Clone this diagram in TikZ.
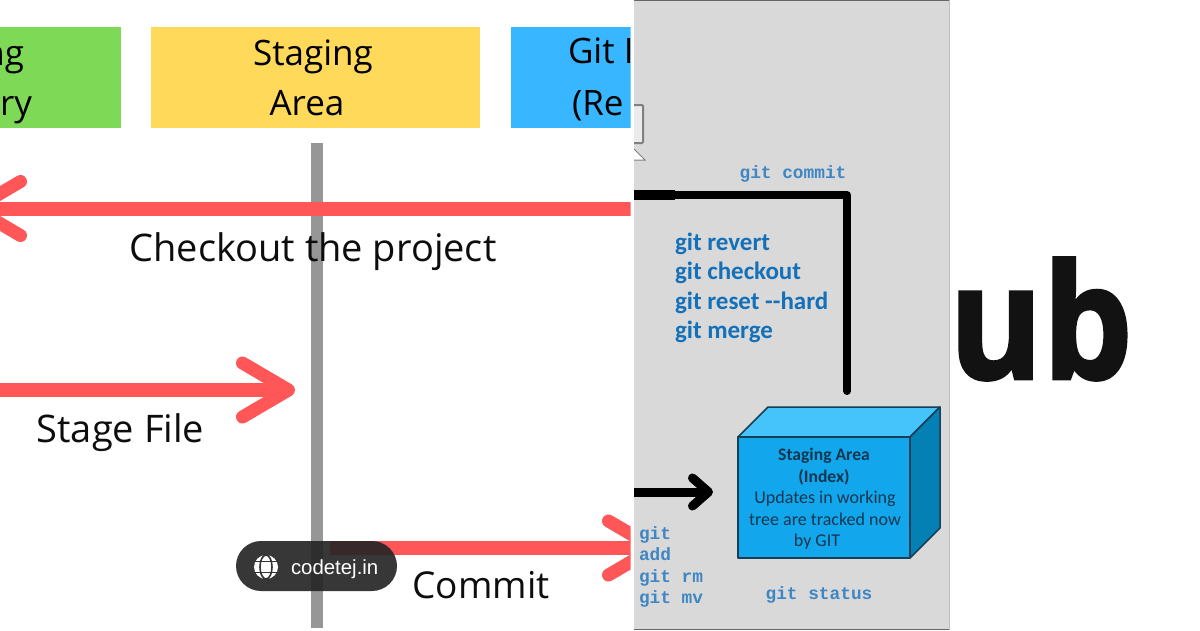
\documentclass[tikz,border=0pt]{standalone}
\usepackage{fontspec}
\usetikzlibrary{arrows.meta}
\setmainfont{Open Sans}
\newfontfamily\boxfont{Carlito}
\newfontfamily\cmdfont{Liberation Mono}
\newfontfamily\pillfont{Liberation Sans}
\newfontfamily\logofont[FakeBold=1.6,FakeStretch=.89]{Open Sans}
\definecolor{greenbox}{HTML}{7ED957}
\definecolor{yellowbox}{HTML}{FFD95A}
\definecolor{bluebox}{HTML}{38B6FF}
\definecolor{redline}{HTML}{FF5757}
\definecolor{greybar}{HTML}{969696}
\definecolor{panelgrey}{HTML}{D9D9D9}
\definecolor{cmdblue}{HTML}{3F86C4}
\definecolor{listblue}{HTML}{1470B8}
\definecolor{boxtext}{HTML}{10374F}
\definecolor{boxedge}{HTML}{173F55}
\definecolor{boxtop}{HTML}{45C4FB}
\definecolor{boxside}{HTML}{0480B5}
\definecolor{boxfront}{HTML}{12A6EC}
\begin{document}
\begin{tikzpicture}[x=1pt,y=-1pt,
    every node/.style={inner sep=0pt,outer sep=0pt},
    title/.style={font=\fontsize{35}{35}\selectfont,text=black},
    caption/.style={font=\fontsize{38}{38}\selectfont,text=black!95},
    redarrow/.style={draw=redline,line width=14pt,
      -{Straight Barb[round,length=46pt,width=54pt,line width=13pt]}},
    cmd/.style={font=\cmdfont\bfseries\fontsize{17.8}{17.8}\selectfont,text=cmdblue,anchor=base west},
    listcmd/.style={font=\boxfont\bfseries\fontsize{25}{25}\selectfont,text=listblue,anchor=base west},
    boxline/.style={font=\boxfont\fontsize{18}{18}\selectfont,text=boxtext,anchor=base},
    boxhead/.style={font=\boxfont\bfseries\fontsize{17.6}{17.6}\selectfont,text=boxtext,anchor=base},
    boxface/.style={draw=boxedge,line width=1.5pt,line join=round},
    blackline/.style={draw=black,line width=8pt,line join=round}]
  \useasboundingbox (0,0) rectangle (1200,630);
  \fill[white] (0,0) rectangle (1200,630);
  \begin{scope}
    \clip (0,0) rectangle (630.5,630);
    \fill[greenbox] (-20,27) rectangle (121,128);
    \fill[yellowbox] (151,27) rectangle (480,128);
    \fill[bluebox] (511,27) rectangle (631,128);
    \node[title,anchor=base east] (workingtop) at (24,65) {ng};
    \node[title,anchor=base east] (workingbottom) at (32,115) {ry};
    \node[title,anchor=base] (stagingtop) at (313,65) {Staging};
    \node[title,anchor=base] (stagingbottom) at (307,115) {Area};
    \node[title,anchor=base west] (remotetop) at (568,63) {Git I};
    \node[title,anchor=base west] (remotebottom) at (572,115) {(Re};
    \fill[greybar] (311,143) rectangle (323,628);
    \coordinate (checkoutstart) at (640,208.5);
    \coordinate (checkoutend) at (-32,208.5);
    \coordinate (stagestart) at (-20,390);
    \coordinate (stageend) at (295,390);
    \coordinate (commitstart) at (330,548);
    \coordinate (commitend) at (661,548);
    \draw[redarrow] (checkoutstart) -- (checkoutend);
    \draw[redarrow] (stagestart) -- (stageend);
    \draw[redarrow] (commitstart) -- (commitend);
    \node[caption,anchor=base] (checkout) at (313,261) {Checkout the project};
    \node[caption,anchor=base] (stagefile) at (120.5,442) {Stage File};
    \node[caption,anchor=base,font=\fontsize{37}{37}\selectfont] (commit) at (481,598) {Commit};
    \fill[black!85,opacity=.92,rounded corners=25pt] (236,541) rectangle (397,591);
    \node[font=\pillfont\fontsize{20.4}{20.4}\selectfont,text=white,anchor=base west] (site) at (291,574) {codetej.in};
    \fill[white] (266,567) circle (12);
    \draw[black!80,line width=1.6pt] (266,567) ellipse (6 and 12);
    \draw[black!80,line width=1.6pt] (254,561.5) -- (278,561.5) (254,572.5) -- (278,572.5);
  \end{scope}
  \fill[panelgrey] (634,0) rectangle (949,630);
  \draw[black!60,line width=1pt] (634,.5) -- (949,.5) (634,629.5) -- (949,629.5);
  \draw[black!25,line width=1pt] (949,0) -- (949,630);
  \draw[black!50,fill=black!8,line width=2pt,rounded corners=1pt] (634,105) -- (643,105) -- (643,143) -- (634,143);
  \draw[black!50,fill=white,line width=1pt] (634,149) -- (645,160) -- (634,160);
  \coordinate (commitleft) at (634,195);
  \coordinate (commitcorner) at (847,195);
  \coordinate (commitdown) at (847,391);
  \coordinate (commitbend) at (675,195);
  \coordinate (addleft) at (634,492);
  \coordinate (addright) at (713,492);
  \draw[blackline] (commitleft) -- (commitcorner) -- (commitdown);
  \fill (commitdown) circle (4);
  \draw[draw=black,line width=10pt] (commitleft) -- (commitbend);
  \draw[blackline,line width=9pt,-{Straight Barb[round,length=16pt,width=28pt,line width=9pt]}] (addleft) -- (addright);
  \node[cmd,anchor=base] (gitcommit) at (793,178) {git commit};
  \node[listcmd] (gitrevert) at (675,250) {git revert};
  \node[listcmd] (gitcheckout) at (675,279.5) {git checkout};
  \node[listcmd] (gitreset) at (675,309) {git reset -{}-hard};
  \node[listcmd] (gitmerge) at (675,338.5) {git merge};
  \path[boxface,fill=boxtop] (738,437) -- (768,407) -- (940,407) -- (910,437) -- cycle;
  \path[boxface,fill=boxside] (910,437) -- (940,407) -- (940,528) -- (910,558) -- cycle;
  \path[boxface,fill=boxfront] (738,437) rectangle (910,558);
  \node[boxhead] (stagingname) at (824,460) {Staging Area};
  \node[boxhead] (stagingindex) at (824,482) {(Index)};
  \node[boxline] (updates) at (825,503) {Updates in working};
  \node[boxline] (tree) at (825,525) {tree are tracked now};
  \node[boxline] (bygit) at (817,546) {by GIT};
  \node[cmd] (gitadda) at (639,539) {git};
  \node[cmd] (gitaddb) at (639,560.5) {add};
  \node[cmd] (gitrm) at (639,582) {git rm};
  \node[cmd] (gitmv) at (639,603) {git mv};
  \node[cmd,anchor=base] (gitstatus) at (819,599) {git status};
  \node[font=\logofont\bfseries\fontsize{160}{160}\selectfont,text=black!93,anchor=base west] (logo) at (949,379) {ub};
\end{tikzpicture}
\end{document}
